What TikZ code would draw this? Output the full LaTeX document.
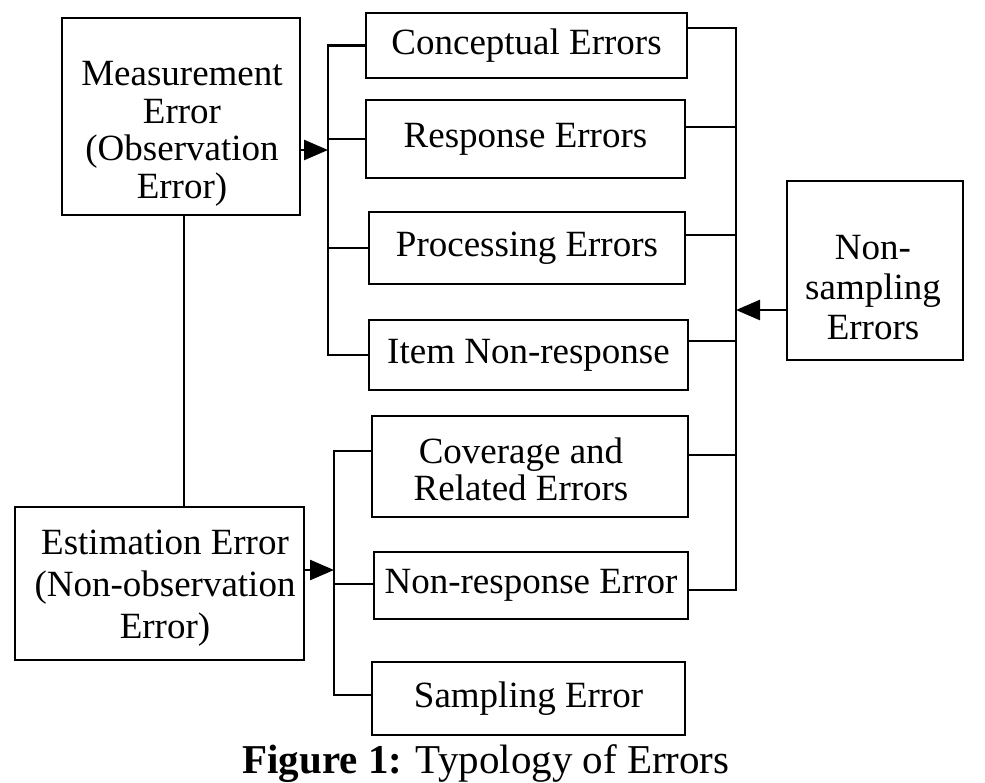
\documentclass[tikz,border=0pt]{standalone}
\usepackage{fontspec}
\setmainfont{Liberation Serif}
\usetikzlibrary{arrows.meta}
\begin{document}
\begin{tikzpicture}[x=1pt,y=-1pt,
  box/.style={draw, line width=2.5pt, rectangle, inner sep=0pt, font=\fontsize{37}{38}\selectfont},
  lbl/.style={align=center, inner sep=0pt},
  ln/.style={line width=2.5pt},
  arr/.style={line width=2.5pt, -{Triangle[length=24pt,width=20pt]}}]
\useasboundingbox (0,0) rectangle (985,782);
% boxes
\node[box, minimum width=238pt, minimum height=197pt] (meas) at (181,116.5) {};
\node[lbl, font=\fontsize{37}{37.5}\selectfont] (meastxt) at (182,134) {Measurement\\Error\\(Observation\\Error)};
\node[box, minimum width=321pt, minimum height=65pt] (conc) at (526.5,45.5) {Conceptual Errors};
\node[box, minimum width=319pt, minimum height=78pt] (resp) at (525.5,139) {Response Errors};
\node[box, minimum width=316pt, minimum height=72pt] (proc) at (527,248) {Processing Errors};
\node[box, minimum width=319pt, minimum height=70pt] (item) at (528.5,355) {Item Non-response};
\node[box, minimum width=176pt, minimum height=179pt] (ns) at (875,270.5) {};
\node[lbl, font=\fontsize{37}{40}\selectfont] (nstxt) at (873,288) {Non-\\sampling\\Errors};
\node[box, minimum width=289pt, minimum height=153pt] (est) at (159.5,583.5) {};
\node[lbl, font=\fontsize{37}{42}\selectfont] (esttxt) at (165,588) {Estimation Error\\(Non-observation\\Error)};
\node[box, minimum width=316pt, minimum height=101pt] (cov) at (530,466.5) {};
\node[lbl, font=\fontsize{37}{37}\selectfont] (covtxt) at (521,469) {Coverage and\\Related Errors};
\node[box, minimum width=314pt, minimum height=67pt] (nonr) at (531,585.5) {Non-response Error};
\node[box, minimum width=313pt, minimum height=73pt] (samp) at (528.5,698.5) {Sampling Error};
% caption
\node[anchor=base, inner sep=0pt, font=\fontsize{41}{44}\selectfont] (cap) at (486,773) {\textbf{Figure 1:} Typology of Errors};
% bus coordinates
\coordinate (bl) at (328,0);
\coordinate (br) at (736,0);
\coordinate (be) at (334,0);
% upper left bracket
\draw[ln] (conc.west) -- (conc.west -| bl) -- (item.west -| bl) -- (item.west);
\draw[ln] (resp.west) -- (resp.west -| bl);
\draw[ln] (proc.west) -- (proc.west -| bl);
\draw[arr] (meas.east |- 0,150) -- (bl |- 0,150);
% right bus
\draw[ln] (conc.east |- 0,28) -- (br |- 0,28) -- (br |- 0,590) -- (nonr.east |- 0,590);
\draw[ln] (resp.east |- 0,127) -- (br |- 0,127);
\draw[ln] (proc.east |- 0,235) -- (br |- 0,235);
\draw[ln] (item.east |- 0,341) -- (br |- 0,341);
\draw[ln] (cov.east |- 0,455) -- (br |- 0,455);
\draw[arr] (ns.west |- 0,310) -- (br |- 0,310);
% link measurement - estimation
\draw[ln] (meas.south -| 184,0) -- (est.north -| 184,0);
% lower left bracket
\draw[ln] (cov.west |- 0,451) -- (be |- 0,451) -- (be |- 0,695) -- (samp.west |- 0,695);
\draw[ln] (nonr.west |- 0,584) -- (be |- 0,584);
\draw[arr] (est.east |- 0,570) -- (be |- 0,570);
\end{tikzpicture}
\end{document}
